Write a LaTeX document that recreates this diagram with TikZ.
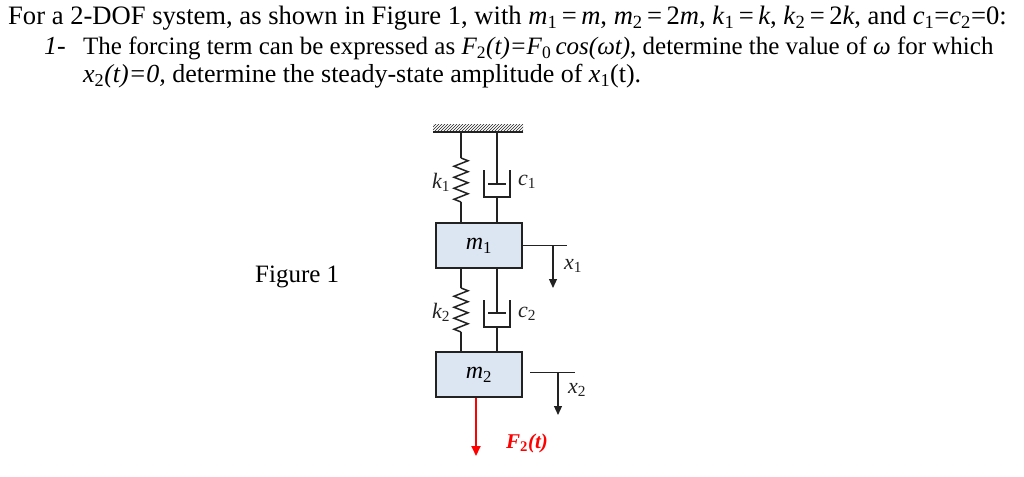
\documentclass[tikz,border=0pt]{standalone}
\usepackage{fontspec}
\setmainfont{Liberation Serif}
\usetikzlibrary{decorations.pathmorphing,patterns,arrows.meta}
\newcommand{\sbs}[1]{\textsubscript{\upshape #1}}
\definecolor{massfill}{HTML}{DCE6F2}
\definecolor{ink}{HTML}{222222}
\begin{document}
\begin{tikzpicture}[x=1pt,y=-1pt,
  txt/.style={anchor=base west,inner sep=0,font=\fontsize{26}{30}\selectfont},
  lab/.style={inner sep=0,font=\fontsize{22}{24}\selectfont\itshape,text=ink},
  mass/.style={draw=ink,line width=1.5pt,fill=massfill,minimum width=86pt,minimum height=45pt,inner sep=0},
  wire/.style={line width=1.5pt,ink},
  spr/.style={line width=1.5pt,ink,decorate,decoration={zigzag,segment length=11pt,amplitude=7pt}},
  arr/.style={line width=1.2pt,ink,-{Triangle[length=9pt,width=8pt]}}]
\useasboundingbox (0,0) rectangle (1024,476);
\node[txt,font=\fontsize{26.6}{30}\selectfont] (l1) at (8,25) {For a 2-DOF system, as shown in Figure 1, with \textit{m}\sbs{1}\,=\,\textit{m}, \textit{m}\sbs{2}\,=\,2\textit{m}, \textit{k}\sbs{1}\,=\,\textit{k}, \textit{k}\sbs{2}\,=\,2\textit{k}, and \textit{c}\sbs{1}=\textit{c}\sbs{2}=0:};
\node[txt] (l2a) at (44,55) {\textit{1-}};
\node[txt,font=\fontsize{25}{30}\selectfont] (l2) at (83,55) {The forcing term can be expressed as \textit{F}\sbs{2}\textit{(t)=F}\sbs{0}\,\textit{cos(ωt)}, determine the value of \textit{ω} for which};
\node[txt] (l3) at (83,83) {\textit{x}\sbs{2}\textit{(t)=0,} determine the steady-state amplitude of \textit{x}\sbs{1}(t).};
\node[txt,font=\fontsize{25}{30}\selectfont] (fig) at (255,282) {Figure 1};
% ground
\fill[pattern=north east lines,pattern color=ink] (433,124) rectangle (523,132);
\draw[wire] (433,132) -- (523,132);
\coordinate (g1) at (461,132); \coordinate (g2) at (497,132);
\node[mass] (m1) at (479,245.5) {\fontsize{24}{26}\selectfont\textit{m}\sbs{1}};
\node[mass] (m2) at (479,374.5) {\fontsize{24}{26}\selectfont\textit{m}\sbs{2}};
% spring 1
\draw[wire] (g1) -- (461,158);
\draw[spr] (461,158) -- (461,202);
\draw[wire] (461,202) -- (461,223);
\node[lab] (k1) at (441,182) {k\sbs{1}};
% damper 1
\draw[wire] (g2) -- (497,184);
\draw[wire] (488,184) -- (506,184);
\draw[wire] (484,170) -- (484,197) -- (510,197) -- (510,170);
\draw[wire] (497,197) -- (497,223);
\node[lab] (c1) at (527,182) {c\sbs{1}};
% spring 2
\draw[wire] (461,268) -- (461,288);
\draw[spr] (461,288) -- (461,332);
\draw[wire] (461,332) -- (461,352);
\node[lab] (k2) at (441,312) {k\sbs{2}};
\draw[wire] (497,268) -- (497,313);
\draw[wire] (488,313) -- (506,313);
\draw[wire] (484,300) -- (484,327) -- (510,327) -- (510,300);
\draw[wire] (497,327) -- (497,352);
\node[lab] (c2) at (527,314) {c\sbs{2}};
% displacements
\coordinate (x1a) at (567,245); \coordinate (x1t) at (553,245); \coordinate (x1b) at (553,288);
\draw[ink,line width=1pt] (m1.east |- x1a) -- (x1a);
\draw[arr] (x1t) -- (x1b);
\node[lab] (x1) at (573,266) {x\sbs{1}};
\coordinate (x2s) at (530,372); \coordinate (x2a) at (575,372); \coordinate (x2t) at (558,372); \coordinate (x2b) at (558,415);
\draw[ink,line width=1pt] (x2s) -- (x2a);
\draw[arr] (x2t) -- (x2b);
\node[lab] (x2) at (577,390) {x\sbs{2}};
% force
\coordinate (fb) at (476,456);
\draw[red,line width=1.8pt,-{Triangle[length=10pt,width=9pt]}] (m2.south -| fb) -- (fb);
\node[inner sep=0,anchor=base west,red,font=\fontsize{21}{24}\selectfont\bfseries\itshape] (F) at (506,448) {F\textsubscript{\bfseries\upshape 2}(t)};
\end{tikzpicture}
\end{document}
